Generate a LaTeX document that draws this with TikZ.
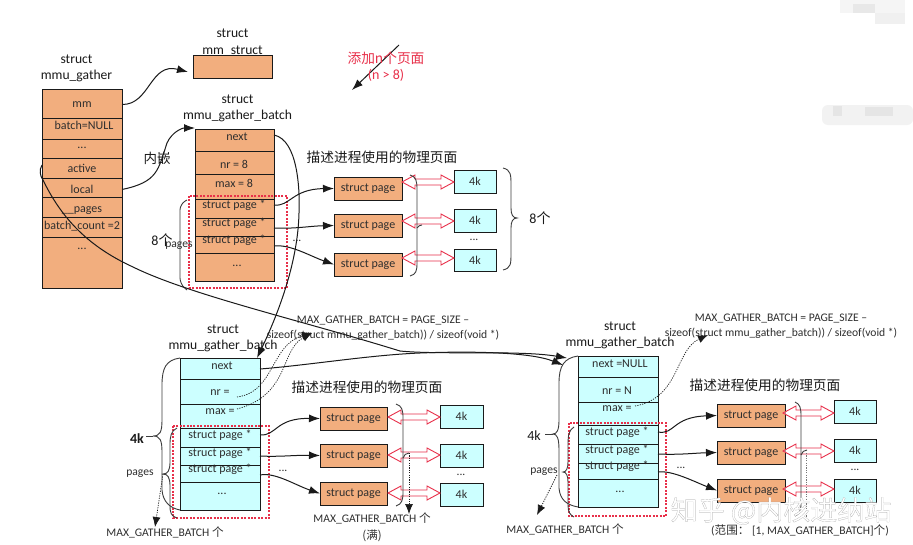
\documentclass[tikz,border=0pt]{standalone}
\usepackage{fontspec}
\setmainfont{Carlito}
\newfontfamily\cjk{Noto Sans CJK SC}
\newfontfamily\wmf{Noto Sans CJK SC}[FakeBold=0.5]
\usetikzlibrary{arrows.meta,shadows,calc}
\definecolor{org}{HTML}{F2AE7E}
\definecolor{cya}{HTML}{CCFFFF}
\definecolor{red1}{HTML}{E8304A}
\definecolor{ink}{HTML}{1A1A1A}
\definecolor{lbl}{HTML}{2E2E2E}
\tikzset{
  x=1pt,y=-1pt,
  every node/.style={inner sep=0pt,outer sep=0pt,text=ink},
  shd/.style={general shadow={shadow xshift=1.2pt,shadow yshift=-1.2pt,fill=black,opacity=0.22}},
  ob/.style={draw=ink,line width=0.9pt,fill=org,rectangle,anchor=north west,shd},
  cb/.style={draw=ink,line width=0.9pt,fill=cya,rectangle,anchor=north west,shd},
  cell/.style={font=\fontsize{12}{12}\selectfont,text=lbl},
  stitle/.style={font=\fontsize{13.6}{14}\selectfont,align=center},
  cjkt/.style={font=\cjk\fontsize{13.7}{15}\selectfont},
  sm/.style={font=\fontsize{11.6}{12}\selectfont,text=lbl},
  conn/.style={draw=ink,line width=1pt,-{Latex[length=11pt,width=8pt]}},
  dots/.style={draw=ink,line width=0.7pt,dash pattern=on 1.2pt off 1.2pt,-{Latex[length=10pt,width=8pt]}},
  brc/.style={draw=ink!85,line width=0.9pt},
  rrect/.style={draw=red1,line width=1.1pt,dash pattern=on 2pt off 1.4pt},
  dbl/.style={draw=red1,line width=0.9pt,fill=white,fill opacity=0.6},
  pics/darrow/.style args={#1}{code={
    \draw[dbl] (0,0)--(13,-7)--(13,-3)--(#1-13,-3)--(#1-13,-7)--(#1,0)--(#1-13,7)--(#1-13,3)--(13,3)--(13,7)--cycle;
  }}
}
\newcommand{\bx}[6]{\node[#6,minimum width=#4pt-#2pt,minimum height=#5pt-#3pt] (#1) at (#2,#3) {};}
\newcommand{\hdiv}[4]{\draw[draw=ink,line width=0.9pt] (#1,#3) -- (#2,#3);}
\begin{document}
\begin{tikzpicture}
\useasboundingbox (0,0) rectangle (913,544);
\fill[white] (0,0) rectangle (913,544);
% blurred marks
\fill[black!4] (840,0) rectangle (905,13);
\fill[black!9] (853,4) rectangle (875,13);
\fill[black!6] (875,13) rectangle (905,24);
\fill[black!5,rounded corners=6pt] (822,105) rectangle (913,125);
\fill[black!10] (833,106) rectangle (842,116);
\fill[black!10] (865,107) rectangle (893,116);

% mmu_gather
\node[stitle] (t1) at (76.5,68) {struct\\[2pt]mmu\_gather};
\bx{g}{42}{89}{122}{288}{ob}
\foreach \yy in {118,139,158,178,197,217,237} {\hdiv{42}{122}{\yy}{}}
\node[cell] (gmm) at (82,104.5) {mm};
\node[cell] (gb) at (84,125.5) {batch=NULL};
\node[cell] (gd) at (82,148) {...};
\node[cell] (ga) at (82,168.5) {active};
\node[cell] (gl) at (82,189.5) {local};
\node[cell] (gp) at (82,211) {\_\_pages};
\node[cell] (gc) at (82,226.5) {batch\_count =2};
\node[cell] (gdd) at (82,249) {...};

% mm_struct
\node[stitle] (t2) at (232.5,42.5) {struct\\[3pt]mm\_struct};
\bx{ms}{193}{55}{272}{78}{ob}

% batch 1
\node[stitle] (t3) at (237.5,108.5) {struct\\[2pt]mmu\_gather\_batch};
\bx{b}{195}{129}{274}{281}{ob}
\foreach \yy in {151,174,199,218,236,253} {\hdiv{195}{274}{\yy}{}}
\node[cell] (bn) at (237,137) {next};
\node[cell] (bnr) at (234,164) {nr = 8};
\node[cell] (bm) at (234,183) {max = 8};
\node[cell] (b1) at (234,205) {struct page *};
\node[cell] (b2) at (234,223) {struct page *};
\node[cell] (b3) at (234,240) {struct page *};
\node[cell] (b4) at (237,266) {...};
\draw[rrect] (189,196) rectangle (287,288);
\draw[brc,rounded corners=6pt] (187,200) -- (180,204) -- (180,284) -- (187,290);
\node[font=\fontsize{14}{14}\selectfont] (e8) at (162,240) {8{\cjk 个}};
\node[sm] (p1) at (179,246) {pages};
\node[font=\cjk\fontsize{13.5}{14}\selectfont] (nq) at (157,158) {内嵌};

% pages 1
\foreach \n/\yy in {a/177,b/214,c/253} {\bx{s\n}{334}{\yy}{402}{\yy+23}{ob}
  \node[cell] at (368,\yy+11.5) {struct page};}
\bx{ka}{454}{170}{496}{193}{cb}\node[cell] at (475,181.5) {4k};
\bx{kb}{454}{209}{496}{232}{cb}\node[cell] at (475,220.5) {4k};
\bx{kc}{454}{249}{496}{271}{cb}\node[cell] at (475,260) {4k};
\pic at (402,182) {darrow={52}};
\pic at (402,221) {darrow={52}};
\pic at (402,258) {darrow={52}};
\draw[brc] (410,175) .. controls (416,177) and (417,180) .. (417,190) -- (417,262) .. controls (417,272) and (416,274) .. (410,276);
\draw[brc] (417,228) .. controls (418,226) and (420,225) .. (422,225);
\node[cjkt] (d1) at (382,157) {描述进程使用的物理页面};
\draw[brc] (503,168) .. controls (511,170) and (511,175) .. (511,185) -- (511,208) .. controls (511,215) and (513,218) .. (517,218) .. controls (513,218) and (511,221) .. (511,228) -- (511,253) .. controls (511,264) and (511,268) .. (503,270);
\node[font=\fontsize{14}{14}\selectfont] (e9) at (540,218) {8{\cjk 个}};
\node[sm] at (474,240) {...};
\node[sm] at (297,241) {...};

% connectors batch1
\draw[conn] (gmm.east -| g.east) .. controls (150,105) and (150,62) .. (188,72);
\draw[conn] (gl.east -| g.east) .. controls (158,182) and (158,170) .. (167,143) .. controls (172,132) and (182,128) .. (195,128);
\draw[conn] (274,205) .. controls (290,207) and (292,189) .. (sa.west);
\draw[conn] (274,228) .. controls (295,229) and (310,226) .. (sb.west);
\draw[conn] (274,246) .. controls (290,244) and (310,256) .. (sc.west);

% batch 2
\node[stitle] (t4) at (223,338) {struct\\[2pt]mmu\_gather\_batch};
\bx{c}{180}{358}{260}{510}{cb}
\foreach \yy in {379,404,428,447,465,482} {\hdiv{180}{260}{\yy}{}}
\node[cell] (cn) at (222,366) {next};
\node[cell] (cnr) at (220,393) {nr =};
\node[cell] (cm) at (220,412) {max =};
\node[cell] (c1) at (220,435) {struct page *};
\node[cell] (c2) at (220,453) {struct page *};
\node[cell] (c3) at (220,469) {struct page *};
\node[cell] (c4) at (222,494) {...};
\draw[rrect] (173,426) rectangle (269,518);
\draw[brc] (180,358) .. controls (166,360) and (162,368) .. (162,385) -- (162,420) .. controls (162,432) and (160,436) .. (153,436) .. controls (160,436) and (162,440) .. (162,452) -- (162,490) .. controls (163,502) and (170,508) .. (180,510);
\draw[brc] (146,436) -- (153,436);
\draw[brc] (177,428) .. controls (171,431) and (170,436) .. (170,445) -- (170,462) .. controls (170,470) and (168,474) .. (163,474) .. controls (168,474) and (170,478) .. (170,486) -- (170,505) .. controls (170,513) and (171,516) .. (177,518);
\node[font=\fontsize{14}{14}\selectfont\bfseries,text=ink] (fk1) at (137,439) {4k};
\node[sm] (p2) at (140,474) {pages};
\coordinate (pa2) at (163,474);
\node[sm] (mg1) at (165,532) {MAX\_GATHER\_BATCH {\cjk 个}};
\draw[dots] (pa2) -- (155,527);

\node[sm] (f1) at (383,321) {MAX\_GATHER\_BATCH = PAGE\_SIZE –};
\node[sm] (f2) at (383,335) {sizeof(struct mmu\_gather\_batch)) / sizeof(void *)};
\coordinate (ft1) at (312,333);
\draw[dots] (237,397) .. controls (275,392) and (270,345) .. (ft1);
\draw[dots] (237,409) .. controls (290,395) and (280,350) .. (ft1);

\foreach \n/\yy in {a/407,b/444,c/482} {\bx{u\n}{320}{\yy}{387}{\yy+23}{ob}
  \node[cell] at (353.5,\yy+11.5) {struct page};}
\bx{la}{440}{405}{483}{428}{cb}\node[cell] at (461.5,416.5) {4k};
\bx{lb}{440}{444}{483}{467}{cb}\node[cell] at (461.5,455.5) {4k};
\bx{lc}{440}{483}{483}{506}{cb}\node[cell] at (461.5,494.5) {4k};
\pic at (388,417) {darrow={52}};
\pic at (388,455) {darrow={52}};
\pic at (388,493) {darrow={52}};
\draw[brc] (396,404) .. controls (402,406) and (403,410) .. (403,418) -- (403,492) .. controls (403,500) and (402,504) .. (396,506);
\draw[brc] (403,458) .. controls (404,455) and (406,453) .. (409,453);
\coordinate (br2) at (409,453);
\draw[dots] (br2) -- (409,514);
\node[cjkt] (d2) at (367,387) {描述进程使用的物理页面};
\node[sm] (mg2) at (372,518) {MAX\_GATHER\_BATCH {\cjk 个}};
\node[sm,font=\cjk\fontsize{11.5}{12}\selectfont] (man) at (372,536) {(满)};
\node[sm] at (283,471) {...};
\node[sm] at (461,475) {...};
\draw[conn] (260,435) .. controls (277,436) and (275,418) .. (ua.west);
\draw[conn] (260,456) .. controls (280,457) and (295,455) .. (ub.west);
\draw[conn] (260,475) .. controls (275,472) and (295,485) .. (uc.west);

% batch 3
\node[stitle] (t5) at (620,335.5) {struct\\[2pt]mmu\_gather\_batch};
\bx{e}{578}{356}{658}{507}{cb}
\foreach \yy in {377,402,425,444,463,479} {\hdiv{578}{658}{\yy}{}}
\node[cell] (en) at (620,364) {next =NULL};
\node[cell] (enr) at (617,391) {nr = N};
\node[cell] (em) at (617,409) {max =};
\node[cell] (e1) at (617,432) {struct page *};
\node[cell] (e2) at (617,450) {struct page *};
\node[cell] (e3) at (617,466) {struct page *};
\node[cell] (e4) at (620,492) {...};
\draw[rrect] (569,423) rectangle (666,516);
\draw[brc] (578,356) .. controls (564,358) and (559,366) .. (559,383) -- (559,420) .. controls (559,430) and (557,434) .. (553,434) .. controls (557,434) and (559,438) .. (559,450) -- (559,488) .. controls (560,500) and (567,505) .. (578,507);
\draw[brc] (545,434) -- (553,434);
\draw[brc] (574,427) .. controls (569,430) and (568,435) .. (568,445) -- (568,462) .. controls (568,469) and (566,472) .. (563,472) .. controls (566,472) and (568,475) .. (568,482) -- (568,505) .. controls (568,512) and (570,515) .. (574,517);
\node[font=\fontsize{14}{14}\selectfont] (fk2) at (534,436) {4k};
\node[sm] (p3) at (544,472) {pages};
\coordinate (pa3) at (557,475);
\node[sm] (mg3) at (565,529) {MAX\_GATHER\_BATCH {\cjk 个}};
\draw[dots] (pa3) -- (537,515);
\node[sm] (f3) at (781,319) {MAX\_GATHER\_BATCH = PAGE\_SIZE –};
\node[sm] (f4) at (781,333) {sizeof(struct mmu\_gather\_batch)) / sizeof(void *)};
\coordinate (ft2) at (708,335);
\draw[dots] (635,406) .. controls (680,398) and (675,350) .. (ft2);
\foreach \n/\yy in {a/404,b/441,c/479} {\bx{v\n}{717}{\yy}{785}{\yy+23}{ob}
  \node[cell] at (751,\yy+11.5) {struct page};}
\bx{ma}{834}{400}{876}{423}{cb}\node[cell] at (855,411.5) {4k};
\bx{mb}{834}{439}{876}{462}{cb}\node[cell] at (855,450.5) {4k};
\bx{mc}{834}{479}{876}{502}{cb}\node[cell] at (855,490.5) {4k};
\pic at (783,413) {darrow={51}};
\pic at (783,451) {darrow={51}};
\pic at (783,489) {darrow={51}};
\draw[brc] (795,402) .. controls (800,404) and (801,408) .. (801,416) -- (801,505) .. controls (801,512) and (798,515) .. (795,516);
\draw[brc] (801,455) .. controls (802,452) and (804,450) .. (807,450);
\coordinate (br3) at (806,453);
\draw[draw=ink!60,line width=0.7pt,dash pattern=on 1.2pt off 1.2pt] (br3) -- (806,520);
\node[cjkt] (d3) at (765,385) {描述进程使用的物理页面};
\node[sm] (rng) at (800,530) {({\cjk 范围：} [1, MAX\_GATHER\_BATCH]{\cjk 个})};
\node[sm] at (681,468) {...};
\node[sm] at (855,470) {...};
\draw[conn] (658,432) .. controls (675,435) and (672,417) .. (va.west);
\draw[conn] (658,454) .. controls (680,455) and (695,453) .. (vb.west);
\draw[conn] (658,472) .. controls (672,470) and (695,482) .. (vc.west);

% long connectors
\draw[conn] (274,135) .. controls (298,140) and (300,190) .. (299,213) .. controls (298,260) and (280,310) .. (257,358);
\draw[conn] (42,165) .. controls (39,170) and (40,176) .. (43,180) .. controls (60,215) and (85,245) .. (133,267) .. controls (190,295) and (300,320) .. (400,351) .. controls (440,355) and (520,350) .. (567,358);
\draw[conn] (260,369) .. controls (310,365) and (370,355) .. (420,353) .. controls (470,351) and (530,352) .. (563,365);

% red title and arrow
\draw[conn] (399,45) -- (352,90);
\node[font=\cjk\fontsize{13.7}{14}\selectfont,text=red1] (rt) at (386,58) {添加n个页面};
\node[font=\fontsize{14}{14}\selectfont,text=red1] (rt2) at (386,75) {(n > 8)};

% watermark: white letters with a grey edge
\node[font=\wmf\fontsize{27}{30}\selectfont,text=white] (wm) at (781,511) {\special{pdf:code 0.62 0.62 0.62 RG}知乎 @内核进纳站};
\end{tikzpicture}
\end{document}
